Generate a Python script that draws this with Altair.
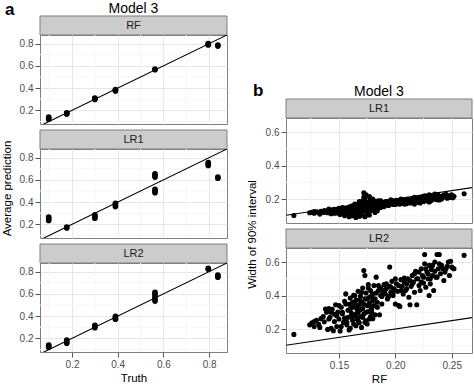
import altair as alt
import pandas as pd

FONT = "Liberation Sans"

# ---------------- panel a data (Model 3) ----------------
truth_levels = [0.098, 0.177, 0.300, 0.390, 0.563, 0.796, 0.838]
rf_pred = [[0.120, 0.130, 0.140], [0.166, 0.172, 0.178], [0.298, 0.305, 0.310],
           [0.375, 0.380, 0.386], [0.565, 0.572], [0.788, 0.795, 0.801], [0.778, 0.788]]
lr1_pred = [[0.235, 0.250, 0.265], [0.168, 0.176], [0.255, 0.270, 0.285],
            [0.360, 0.375, 0.390], [0.485, 0.500, 0.515, 0.625, 0.640, 0.655],
            [0.730, 0.745, 0.755], [0.615, 0.625]]
lr2_pred = [[0.120, 0.130, 0.140], [0.155, 0.170, 0.185], [0.295, 0.310, 0.318],
            [0.372, 0.385, 0.398], [0.535, 0.555, 0.575, 0.595, 0.615],
            [0.822, 0.830], [0.750, 0.760, 0.770]]

# ---------------- panel b data (Model 3) ----------------
rf_width = [0.110, 0.124, 0.126, 0.128, 0.130, 0.132, 0.134, 0.136, 0.137, 0.139,
            0.140, 0.141, 0.142, 0.143, 0.144, 0.145, 0.146, 0.147, 0.148, 0.149,
            0.150, 0.151, 0.152, 0.153, 0.154, 0.155, 0.156, 0.157, 0.158, 0.158,
            0.159, 0.160, 0.160, 0.161, 0.162, 0.162, 0.163, 0.164, 0.164, 0.165,
            0.165, 0.166, 0.166, 0.167, 0.167, 0.168, 0.168, 0.169, 0.169, 0.170,
            0.170, 0.171, 0.171, 0.172, 0.172, 0.173, 0.173, 0.174, 0.174, 0.175,
            0.175, 0.176, 0.176, 0.177, 0.177, 0.178, 0.178, 0.179, 0.179, 0.180,
            0.180, 0.181, 0.182, 0.183, 0.183, 0.184, 0.185, 0.186, 0.187, 0.188,
            0.189, 0.190, 0.191, 0.192, 0.193, 0.195, 0.195, 0.196, 0.197, 0.198,
            0.199, 0.200, 0.201, 0.202, 0.203, 0.204, 0.205, 0.206, 0.207, 0.208,
            0.209, 0.210, 0.211, 0.212, 0.213, 0.214, 0.215, 0.216, 0.217, 0.218,
            0.219, 0.220, 0.221, 0.222, 0.223, 0.224, 0.225, 0.226, 0.226, 0.227,
            0.228, 0.229, 0.230, 0.230, 0.231, 0.232, 0.233, 0.234, 0.235, 0.236,
            0.237, 0.238, 0.239, 0.240, 0.241, 0.243, 0.244, 0.245, 0.247, 0.248,
            0.250, 0.252, 0.261,
            0.128, 0.133, 0.138, 0.141, 0.143, 0.146, 0.148, 0.150, 0.152, 0.153,
            0.155, 0.156, 0.157, 0.159, 0.160, 0.161, 0.162, 0.163, 0.164, 0.165,
            0.166, 0.167, 0.168, 0.169, 0.170, 0.171, 0.172, 0.173, 0.174, 0.175,
            0.176, 0.177, 0.178, 0.179, 0.180, 0.181, 0.182, 0.184, 0.185, 0.187,
            0.188, 0.190, 0.192, 0.194, 0.196, 0.198, 0.200, 0.203, 0.205, 0.208,
            0.210, 0.213, 0.215, 0.217, 0.219, 0.221, 0.223, 0.225, 0.227, 0.229,
            0.231, 0.233, 0.235, 0.237, 0.239, 0.242, 0.246, 0.249, 0.251]
lr1_width = [0.102, 0.118, 0.121, 0.115, 0.124, 0.119, 0.127, 0.120, 0.131, 0.125,
             0.118, 0.133, 0.128, 0.112, 0.136, 0.122, 0.139, 0.130, 0.117, 0.141,
             0.126, 0.108, 0.144, 0.133, 0.121, 0.147, 0.138, 0.113, 0.150, 0.129,
             0.142, 0.104, 0.155, 0.135, 0.118, 0.149, 0.160, 0.126, 0.140, 0.110,
             0.163, 0.147, 0.131, 0.170, 0.122, 0.156, 0.098, 0.178, 0.138, 0.165,
             0.115, 0.190, 0.150, 0.237, 0.128, 0.205, 0.158, 0.140, 0.226, 0.172,
             0.107, 0.184, 0.145, 0.215, 0.162, 0.131, 0.195, 0.153, 0.176, 0.140,
             0.200, 0.165, 0.120, 0.186, 0.158, 0.175, 0.148, 0.168, 0.190, 0.160,
             0.178, 0.170, 0.184, 0.165, 0.176, 0.188, 0.170, 0.181, 0.173, 0.190,
             0.180, 0.168, 0.192, 0.178, 0.186, 0.170, 0.196, 0.182, 0.175, 0.194,
             0.185, 0.172, 0.199, 0.180, 0.191, 0.176, 0.202, 0.186, 0.170, 0.196,
             0.183, 0.205, 0.190, 0.176, 0.212, 0.198, 0.185, 0.220, 0.203, 0.190,
             0.214, 0.196, 0.182, 0.225, 0.208, 0.193, 0.218, 0.202, 0.230, 0.210,
             0.196, 0.222, 0.205, 0.215, 0.200, 0.224, 0.212, 0.228, 0.218, 0.210,
             0.226, 0.216, 0.232,
             0.125, 0.110, 0.122, 0.140, 0.125, 0.115, 0.135, 0.145, 0.118, 0.150,
             0.100, 0.125, 0.145, 0.095, 0.130, 0.158, 0.100, 0.145, 0.170, 0.090,
             0.120, 0.150, 0.185, 0.100, 0.140, 0.165, 0.210, 0.095, 0.180, 0.125,
             0.160, 0.105, 0.170, 0.135, 0.185, 0.145, 0.175, 0.130, 0.190, 0.150,
             0.182, 0.155, 0.185, 0.162, 0.195, 0.168, 0.185, 0.172, 0.200, 0.170,
             0.190, 0.178, 0.195, 0.210, 0.192, 0.180, 0.200, 0.215, 0.198, 0.220,
             0.188, 0.210, 0.200, 0.226, 0.194, 0.218, 0.205, 0.222, 0.208]
lr2_width = [0.168, 0.225, 0.238, 0.215, 0.252, 0.228, 0.262, 0.275, 0.244, 0.300,
             0.198, 0.322, 0.270, 0.205, 0.318, 0.190, 0.288, 0.345, 0.215, 0.302,
             0.260, 0.188, 0.330, 0.292, 0.240, 0.365, 0.410, 0.225, 0.312, 0.270,
             0.348, 0.205, 0.385, 0.296, 0.252, 0.330, 0.402, 0.280, 0.355, 0.220,
             0.372, 0.318, 0.262, 0.425, 0.300, 0.345, 0.238, 0.395, 0.275, 0.360,
             0.210, 0.445, 0.322, 0.550, 0.290, 0.520, 0.380, 0.250, 0.415, 0.340,
             0.230, 0.465, 0.305, 0.390, 0.355, 0.275, 0.430, 0.320, 0.400, 0.262,
             0.370, 0.340, 0.285, 0.510, 0.415, 0.360, 0.430, 0.285, 0.445, 0.395,
             0.420, 0.465, 0.410, 0.440, 0.380, 0.570, 0.455, 0.420, 0.485, 0.400,
             0.440, 0.350, 0.470, 0.425, 0.340, 0.335, 0.495, 0.455, 0.410, 0.480,
             0.430, 0.470, 0.500, 0.390, 0.345, 0.455, 0.520, 0.480, 0.420, 0.545,
             0.345, 0.500, 0.460, 0.430, 0.560, 0.520, 0.475, 0.645, 0.590, 0.450,
             0.540, 0.500, 0.400, 0.580, 0.470, 0.555, 0.520, 0.430, 0.600, 0.510,
             0.645, 0.560, 0.645, 0.530, 0.580, 0.490, 0.540, 0.560, 0.600, 0.520,
             0.570, 0.560, 0.640,
             0.245, 0.210, 0.320, 0.260, 0.300, 0.245, 0.280, 0.340, 0.215, 0.300,
             0.265, 0.350, 0.240, 0.195, 0.320, 0.275, 0.360, 0.230, 0.400, 0.290,
             0.335, 0.250, 0.375, 0.315, 0.420, 0.270, 0.350, 0.240, 0.300, 0.380,
             0.445, 0.260, 0.335, 0.300, 0.410, 0.460, 0.380, 0.330, 0.460, 0.400,
             0.350, 0.430, 0.470, 0.395, 0.450, 0.420, 0.500, 0.460, 0.430, 0.505,
             0.440, 0.490, 0.470, 0.530, 0.500, 0.540, 0.480, 0.510, 0.560, 0.530,
             0.500, 0.580, 0.545, 0.510, 0.590, 0.560, 0.575, 0.605, 0.565]

# ---------------- axes ----------------
a_x_ticks = [0.2, 0.4, 0.6, 0.8]
a_y_ticks = [0.2, 0.4, 0.6, 0.8]
a_x_minor = [0.1, 0.3, 0.5, 0.7]
a_y_minor = [0.1, 0.3, 0.5, 0.7]
a_x_domain = [0.06, 0.878]
a_y_domain = [0.077, 0.878]

b_x_ticks = [0.15, 0.20, 0.25]
b_y_ticks = [0.2, 0.4, 0.6]
b_x_minor = [0.125, 0.175, 0.225]
b_y_minor = [0.1, 0.3, 0.5]
b_x_domain = [0.103, 0.268]
b_y_domain = [0.057, 0.684]

MAJOR = "#e6e6e6"
MINOR = "#f6f6f6"
STRIP_FILL = "#cccccc"
BORDER = "#7f7f7f"
NO_STROKE = alt.ViewBackground(stroke="transparent")
PANEL_VIEW = alt.ViewBackground(stroke=BORDER, strokeWidth=1, fill="white")


def a_frame(preds):
    rows = []
    for t, ps in zip(truth_levels, preds):
        for p in ps:
            rows.append({"x": t, "y": p})
    return pd.DataFrame(rows)


def panel(df, xdom, ydom, xticks, yticks, xminor, yminor, w, h, size,
          show_x, xtitle, xfmt, ytitle=None, ytitle_y=None, ytitle_x=None):
    xs = alt.Scale(domain=xdom, nice=False, zero=False)
    ys = alt.Scale(domain=ydom, nice=False, zero=False)
    if show_x:
        xaxis = alt.Axis(values=xticks, format=xfmt, title=xtitle, grid=True,
                         titlePadding=3)
    else:
        xaxis = alt.Axis(values=xticks, labels=False, ticks=False, title=None,
                         grid=True)
    if ytitle:
        yaxis = alt.Axis(values=yticks, format=".1f", title=ytitle, grid=True,
                         titleX=ytitle_x, titleY=ytitle_y, titleBaseline="middle",
                         titleAngle=270)
    else:
        yaxis = alt.Axis(values=yticks, format=".1f", title=None, grid=True)

    X = alt.X("x:Q", scale=xs, axis=xaxis)
    Y = alt.Y("y:Q", scale=ys, axis=yaxis)

    vmin = alt.Chart(pd.DataFrame({"x": xminor})).mark_rule(
        color=MINOR, strokeWidth=1).encode(x=X)
    hmin = alt.Chart(pd.DataFrame({"y": yminor})).mark_rule(
        color=MINOR, strokeWidth=1).encode(y=Y)
    pts = alt.Chart(df).mark_circle(size=size, color="black", opacity=1).encode(x=X, y=Y)
    line = alt.Chart(pd.DataFrame({"x": [0.0, 1.0], "y": [0.0, 1.0]})).mark_line(
        color="black", strokeWidth=1.1, clip=True).encode(x=X, y=Y)
    return alt.layer(vmin, hmin, pts, line).properties(width=w, height=h, view=PANEL_VIEW)


def strip(label, w, h, gap):
    df = pd.DataFrame({"label": [label]})
    rect = alt.Chart(df).mark_rect(fill=STRIP_FILL, stroke=BORDER, strokeWidth=1).encode(
        x=alt.value(0), x2=alt.value(w), y=alt.value(gap), y2=alt.value(h))
    txt = alt.Chart(df).mark_text(font=FONT, fontSize=11, color="#1a1a1a").encode(
        x=alt.value(w / 2), y=alt.value(gap + (h - gap) / 2), text="label:N")
    return alt.layer(rect, txt).properties(width=w, height=h, view=NO_STROKE)


def title_cell(w, h, ty, letter, lx, ly):
    df = pd.DataFrame({"t": ["Model 3"], "l": [letter]})
    t = alt.Chart(df).mark_text(font=FONT, fontSize=14, color="black",
                                baseline="alphabetic").encode(
        x=alt.value(w / 2), y=alt.value(ty), text="t:N")
    l = alt.Chart(df).mark_text(font=FONT, fontSize=17, fontWeight="bold", color="black",
                                align="left", baseline="alphabetic").encode(
        x=alt.value(lx), y=alt.value(ly), text="l:N")
    return alt.layer(t, l).properties(width=w, height=h, view=NO_STROKE)


WA, HA = 187, 89
WB, HB = 186, 105

colA = alt.vconcat(
    title_cell(WA, 15, 11.5, "a", -35, 13.5),
    strip("RF", WA, 19, 0),
    panel(a_frame(rf_pred), a_x_domain, a_y_domain, a_x_ticks, a_y_ticks, a_x_minor,
          a_y_minor, WA, HA, 32, False, None, ".1f"),
    strip("LR1", WA, 25, 6),
    panel(a_frame(lr1_pred), a_x_domain, a_y_domain, a_x_ticks, a_y_ticks, a_x_minor,
          a_y_minor, WA, HA, 32, False, None, ".1f",
          ytitle="Average prediction", ytitle_y=39, ytitle_x=-33),
    strip("LR2", WA, 25, 6),
    panel(a_frame(lr2_pred), a_x_domain, a_y_domain, a_x_ticks, a_y_ticks, a_x_minor,
          a_y_minor, WA, HA, 32, True, "Truth", ".1f"),
    spacing=0, bounds="flush",
)

b1 = pd.DataFrame({"x": rf_width, "y": lr1_width})
b2 = pd.DataFrame({"x": rf_width, "y": lr2_width})

colB = alt.vconcat(
    title_cell(WB, 98, 95, "b", -33, 95),
    strip("LR1", WB, 19, 0),
    panel(b1, b_x_domain, b_y_domain, b_x_ticks, b_y_ticks, b_x_minor, b_y_minor,
          WB, HB, 26, False, None, ".2f",
          ytitle="Width of 90% interval", ytitle_y=116, ytitle_x=-34),
    strip("LR2", WB, 25, 6),
    panel(b2, b_x_domain, b_y_domain, b_x_ticks, b_y_ticks, b_x_minor, b_y_minor,
          WB, HB, 26, True, "RF", ".2f"),
    spacing=0, bounds="flush",
)

chart = alt.hconcat(colA, colB, spacing=17).properties(
    padding=0, background="white"
).configure_axis(
    labelFont=FONT, labelFontSize=10, labelColor="#4d4d4d",
    tickColor="#555555", tickSize=5, labelPadding=2,
    titleFont=FONT, titleFontSize=11.5, titleFontWeight="normal", titleColor="black",
    domain=False, gridColor=MAJOR, gridWidth=1,
).configure_view(stroke=BORDER)

chart.save("out.html", embed_options={"renderer": "svg", "actions": False})
